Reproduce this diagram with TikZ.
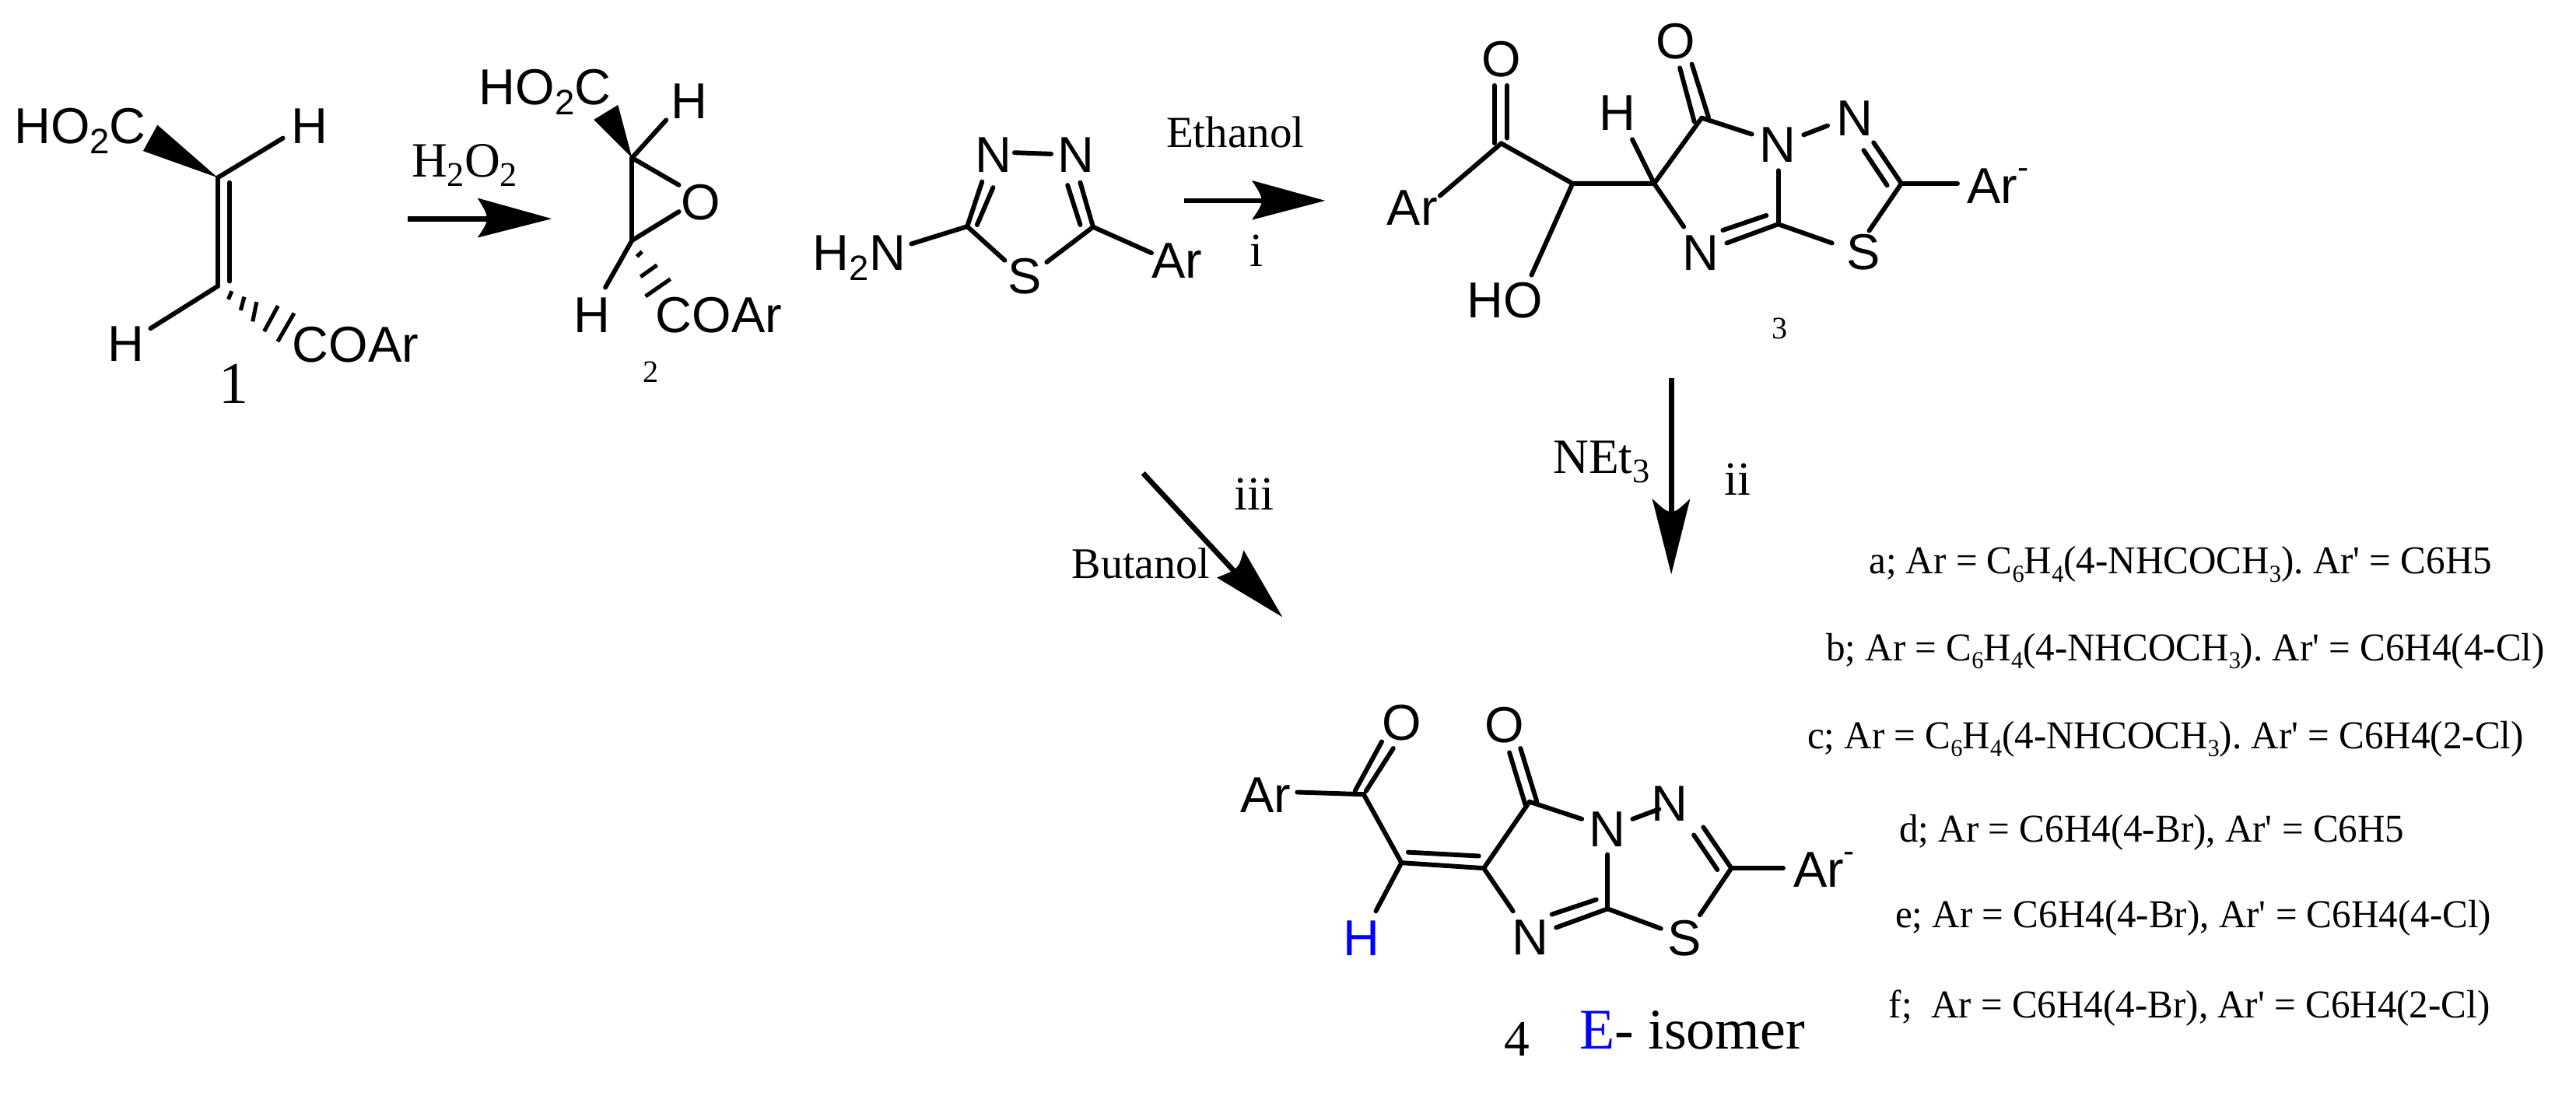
\documentclass[tikz,border=0pt]{standalone}
\usepackage{graphicx}
\usepackage{fontspec}
\newfontfamily\chemsans{Liberation Sans}
\newfontfamily\chemserif{Liberation Serif}
\newfontfamily\listserif[FakeStretch=0.967]{Liberation Serif}
\newcommand{\lowsub}[1]{\raisebox{-0.2em}{\scalebox{0.7}{#1}}}
\newcommand{\listsub}[1]{\raisebox{-0.2em}{\scalebox{0.62}{#1}}}
\newcommand{\highminus}{\raisebox{0.5em}{\scalebox{0.65}{-}}}
\tikzset{
  atom/.style={inner sep=0pt,anchor=base,font=\chemsans\fontsize{30.7}{31}\selectfont},
  atomw/.style={atom,anchor=base west},
  lab/.style={inner sep=0pt,anchor=base west,font=\chemserif\fontsize{#1}{#1}\selectfont},
  bond/.style={line width=2.8pt,line cap=round,line join=round},
  hash/.style={line width=2.4pt},
  shaft/.style={line width=3.2pt},
  listline/.style={inner sep=0pt,anchor=base west,font=\listserif\frenchspacing\fontsize{24}{24}\selectfont}
}
\begin{document}
\begin{tikzpicture}[x=1pt,y=-1pt]
\useasboundingbox[fill=white] (0,0) rectangle (1566,666);
% compound 1
\node[atomw] (a1) at (8.4,87.5) {HO\lowsub{2}C};
\node[atom] (a2) at (188,87.5) {H};
\node[atom] (a3) at (76.6,219.8) {H};
\node[atomw] (a4) at (177.5,220) {COAr};
\node[lab=36,anchor=base] (l1) at (142,245) {1};
\coordinate (c1a) at (132.4,108);
\coordinate (c1b) at (132.4,174);
\fill (c1a) -- (95.7,76) -- (87,91.8) -- cycle;
\draw[bond] (c1a) -- (c1b);
\draw[bond] (139.7,111) -- (139.7,171);
\draw[bond] (c1a) -- (172,84);
\draw[bond] (c1b) -- (91.5,199.7);
\draw[hash] (140.9,177) -- (138.8,182);
\draw[hash] (148.5,180.5) -- (146.3,188.7);
\draw[hash] (156,183.6) -- (153.6,195.5);
\draw[hash] (169,186) -- (160.6,201.5);
\draw[hash] (178.8,190.4) -- (168.8,207.7);
% arrow 1
\node[lab=30] (r1) at (250,107.4) {H\lowsub{2}O\lowsub{2}};
\coordinate (s1) at (247.6,133);
\coordinate (e1) at (298,133);
\draw[shaft] (s1) -- (e1);
\fill (335.4,133) -- (290.3,120.4) .. controls (298,133) .. (290.3,144.5) -- cycle;
% compound 2
\node[atomw] (b1) at (291,63.8) {HO\lowsub{2}C};
\node[atom] (b2) at (418.8,72) {H};
\node[atom] (b3) at (426,133.5) {O};
\node[atom] (b4) at (359.8,202) {H};
\node[atomw] (b5) at (398.5,202.3) {COAr};
\node[lab=19,anchor=base] (l2) at (395.5,232.5) {2};
\coordinate (c2a) at (384.2,96);
\coordinate (c2b) at (384.2,146.2);
\fill (c2a) -- (375.7,63.8) -- (361,72.8) -- cycle;
\draw[bond] (c2a) -- (c2b);
\draw[bond] (c2a) -- (412.7,112.5);
\draw[bond] (c2b) -- (412.7,128.7);
\draw[bond] (c2a) -- (405,73);
\draw[bond] (c2b) -- (368,174.8);
\draw[hash] (390.3,153) -- (387.2,156);
\draw[hash] (399.4,161.2) -- (389.4,168.3);
\draw[hash] (407.5,169.7) -- (392.4,180.2);
% thiadiazole
\node[atom] (d1) at (604,104.8) {N};
\node[atom] (d2) at (654,104.8) {N};
\node[atomw] (d3) at (494,164.5) {H\lowsub{2}N};
\node[atom] (d4) at (623,178.5) {S};
\node[atomw] (d5) at (700,169) {Ar};
\coordinate (c3a) at (588,137.7);
\coordinate (c3b) at (664.5,138);
\draw[bond] (616.7,92.8) -- (639,93.6);
\draw[bond] (c3a) -- (597,110.5);
\draw[bond] (594,136.7) -- (603.7,114);
\draw[bond] (c3b) -- (656.7,111);
\draw[bond] (656.7,136.7) -- (649,112.6);
\draw[bond] (c3a) -- (554,148.3);
\draw[bond] (c3a) -- (610.8,158.3);
\draw[bond] (c3b) -- (636.3,159.4);
\draw[bond] (c3b) -- (700,153.8);
% arrow i
\node[lab=27] (r2) at (708.8,89.6) {Ethanol};
\node[lab=29,anchor=base] (r3) at (763.7,162) {i};
\coordinate (s2) at (719.8,122);
\coordinate (e2) at (768,122);
\draw[shaft] (s2) -- (e2);
\fill (805.6,122) -- (761,109.7) .. controls (769,122) .. (761,133.7) -- cycle;
% compound 3
\node[atom] (e1a) at (912.6,46.5) {O};
\node[atomw] (e2a) at (843,137) {Ar};
\node[atomw] (e3a) at (891.6,193) {HO};
\node[atom] (e4a) at (983.3,79.3) {H};
\node[atom] (e5a) at (1018.8,35.8) {O};
\node[atom] (e6a) at (1080.8,98.5) {N};
\node[atom] (e7a) at (1127.4,82.7) {N};
\node[atomw] (e8a) at (1195.7,123.7) {Ar\highminus};
\node[atom] (e9a) at (1132.6,163.9) {S};
\node[atom] (e10a) at (1034,164.4) {N};
\node[lab=19,anchor=base] (l3) at (1082,206) {3};
\coordinate (c4a) at (912.6,87.2);
\coordinate (c4b) at (956,111.6);
\coordinate (c4c) at (1005.6,111.6);
\coordinate (c4d) at (1034.5,71.7);
\coordinate (c4e) at (1081,136.3);
\coordinate (c4f) at (1155.9,111.6);
\draw[bond] (908.4,52) -- (908.4,87);
\draw[bond] (916.2,52) -- (916.2,84);
\draw[bond] (c4a) -- (875.4,119);
\draw[bond] (c4a) -- (c4b) -- (c4c) -- (c4d);
\draw[bond] (c4b) -- (931,167.3);
\draw[bond] (c4c) -- (992.3,84.8);
\draw[bond] (1021.2,41.3) -- (1030,74);
\draw[bond] (1028.5,39) -- (1038.6,71.2);
\draw[bond] (c4d) -- (1065,81.6);
\draw[bond] (1096.5,82) -- (1111,76.4);
\draw[bond] (1139,86.7) -- (c4f);
\draw[bond] (1133,91.4) -- (1147.2,112.7);
\draw[bond] (c4f) -- (1190,111.6);
\draw[bond] (c4f) -- (1136.3,140.3);
\draw[bond] (1081,103.7) -- (c4e);
\draw[bond] (c4e) -- (1113.7,147.8);
\draw[bond] (c4e) -- (1049.7,147.8);
\draw[bond] (1073.8,131) -- (1047.3,140);
\draw[bond] (c4c) -- (1023.6,137.9);
% arrow iii
\node[lab=29] (r4) at (750,309.8) {iii};
\node[lab=26.5] (r5) at (651.4,351.6) {Butanol};
\coordinate (s3) at (694.9,287.7);
\coordinate (e3) at (750.5,347.6);
\draw[shaft] (s3) -- (e3);
\fill (779.6,375.2) -- (756,334.5) .. controls (753,346) .. (739.7,351.2) -- cycle;
% arrow ii
\node[lab=30] (r6) at (944,287.7) {NEt\lowsub{3}};
\node[lab=29] (r7) at (1048,301) {ii};
\coordinate (s4) at (1016,229.9);
\coordinate (e4) at (1016,312);
\draw[shaft] (s4) -- (e4);
\fill (1016,349.2) -- (1004.4,303.2) .. controls (1016,314) .. (1027.5,303.2) -- cycle;
% compound 4
\node[atom] (f1) at (852,450) {O};
\node[atomw] (f2) at (754,494) {Ar};
\node[atom,text=blue] (f3) at (827.7,581) {H};
\node[atom] (f4) at (914.7,451.5) {O};
\node[atom] (f5) at (977.3,515) {N};
\node[atom] (f6) at (1015,499.4) {N};
\node[atom] (f7) at (1024,581) {S};
\node[atom] (f8) at (930.5,580.7) {N};
\node[atomw] (f9) at (1090,539.5) {Ar\highminus};
\coordinate (c5a) at (829,483);
\coordinate (c5b) at (852,524.6);
\coordinate (c5c) at (902,527.9);
\coordinate (c5d) at (929.8,487.5);
\coordinate (c5e) at (977.3,552.6);
\coordinate (c5f) at (1052.5,527.9);
\draw[bond] (823.7,481) -- (840,451);
\draw[bond] (830.4,481) -- (847,455);
\draw[bond] (788.6,481.7) -- (c5a);
\draw[bond] (c5a) -- (c5b) -- (c5c) -- (c5d);
\draw[bond] (856,518.2) -- (899,520.5);
\draw[bond] (c5b) -- (836.4,554);
\draw[bond] (917.6,457.6) -- (927.3,489.4);
\draw[bond] (924.3,455) -- (934.3,487.5);
\draw[bond] (c5d) -- (961.6,498);
\draw[bond] (992.5,498) -- (1008.5,492);
\draw[bond] (1035.5,503) -- (c5f);
\draw[bond] (1029.7,507.7) -- (1044,528.8);
\draw[bond] (c5f) -- (1084,527.9);
\draw[bond] (c5f) -- (1033.4,556.3);
\draw[bond] (977.3,519.6) -- (c5e);
\draw[bond] (c5e) -- (1009.7,564.6);
\draw[bond] (c5e) -- (946,564);
\draw[bond] (970.4,547) -- (943.4,556);
\draw[bond] (c5c) -- (919.8,554);
\node[lab=31,anchor=base] (l4) at (922,642) {4};
\node[lab=35] (l5) at (960,638) {\textcolor{blue}{E}- isomer};
% list
\node[listline] (m1) at (1136,349) {a; Ar = C\listsub{6}H\listsub{4}(4-NHCOCH\listsub{3}). Ar' = C6H5};
\node[listline] (m2) at (1110,401.7) {b; Ar = C\listsub{6}H\listsub{4}(4-NHCOCH\listsub{3}). Ar' = C6H4(4-Cl)};
\node[listline] (m3) at (1098.5,455) {c; Ar = C\listsub{6}H\listsub{4}(4-NHCOCH\listsub{3}). Ar' = C6H4(2-Cl)};
\node[listline] (m4) at (1154.5,512) {d; Ar = C6H4(4-Br), Ar' = C6H5};
\node[listline] (m5) at (1152,564) {e; Ar = C6H4(4-Br), Ar' = C6H4(4-Cl)};
\node[listline] (m6) at (1148,619) {f;\ \ Ar = C6H4(4-Br), Ar' = C6H4(2-Cl)};
\end{tikzpicture}
\end{document}
